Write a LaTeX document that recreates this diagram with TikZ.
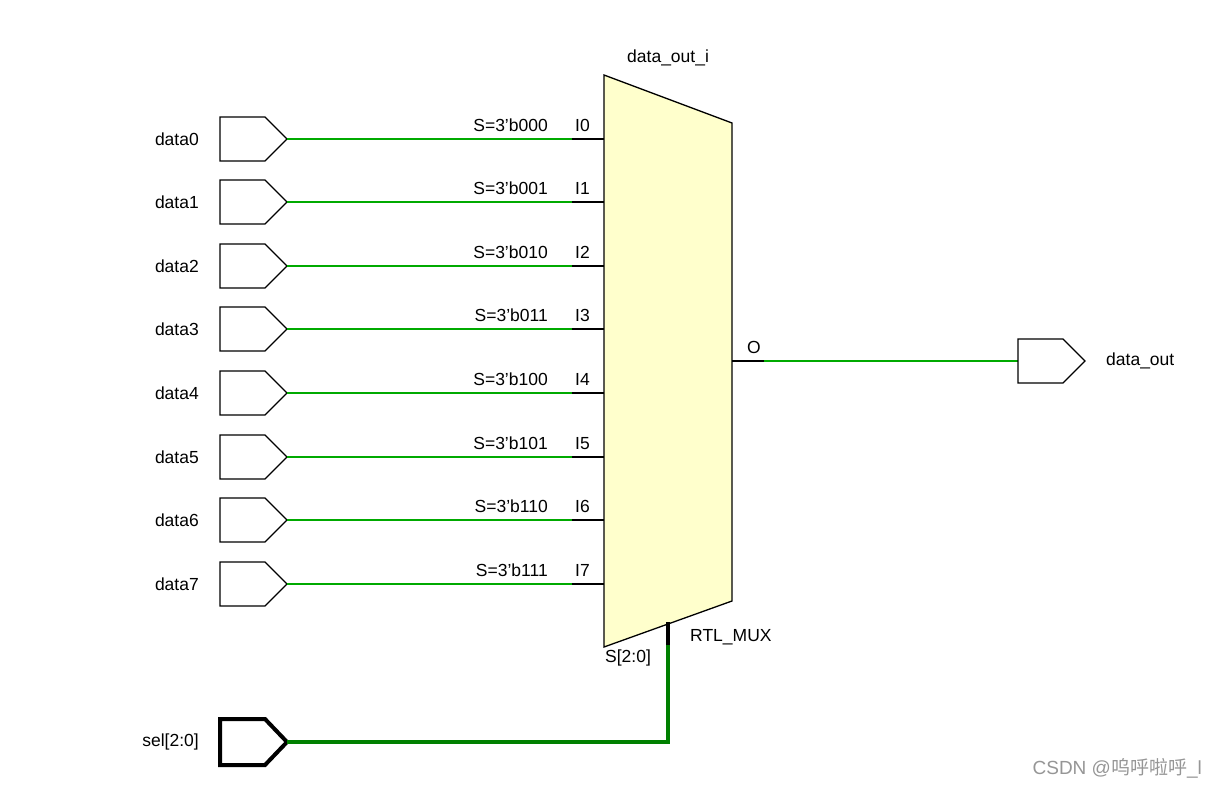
\documentclass[tikz,border=0pt]{standalone}
\usepackage{fontspec}
\setmainfont{Liberation Sans}
\newfontfamily\cjk{Noto Sans CJK SC}
\begin{document}
\begin{tikzpicture}[x=1pt,y=-1pt,
  lbl/.style={font=\fontsize{17.5}{20}\selectfont,inner sep=0pt},
  wire/.style={draw={rgb,255:red,0;green,170;blue,0},line width=1.3pt},
  stub/.style={draw=black,line width=1.5pt},
  port/.style={draw=black,line width=1.3pt,fill=white}]
\useasboundingbox (0,0) rectangle (1215,787);
\fill[white] (0,0) rectangle (1215,787);
\draw[line width=1.3pt,fill={rgb,255:red,255;green,255;blue,204}] (604,75) -- (732,123) -- (732,601) -- (604,647) -- cycle;
\node[lbl,anchor=south west] (mname) at (627,66) {data\_out\_i};
\node[lbl,anchor=west] (mtype) at (690,637) {RTL\_MUX};
\node[lbl,anchor=west] (sl) at (605,658) {S[2:0]};
\foreach \i/\y/\s in {0/139/000,1/202/001,2/266/010,3/329/011,4/393/100,5/457/101,6/520/110,7/584/111}{
  \draw[port] (220,\y-22) -- (265,\y-22) -- (287,\y) -- (265,\y+22) -- (220,\y+22) -- cycle;
  \coordinate (p\i) at (287,\y);
  \coordinate (s\i) at (572,\y);
  \coordinate (m\i) at (604,\y);
  \node[lbl,anchor=east] (n\i) at (199,\y) {data\i};
  \draw[wire] (p\i) -- (s\i);
  \draw[stub] (s\i) -- (m\i);
  \node[lbl,anchor=south east] (c\i) at (548,\y-7) {S=3\char"0027 b\s};
  \node[lbl,anchor=south west] (i\i) at (575,\y-7) {I\i};
}
\coordinate (mo) at (732,361);
\coordinate (so) at (764,361);
\coordinate (po) at (1018,361);
\draw[stub] (mo) -- (so);
\draw[wire] (so) -- (po);
\node[lbl,anchor=south west] (ol) at (747,354) {O};
\draw[port] (1018,339) -- (1063,339) -- (1085,361) -- (1063,383) -- (1018,383) -- cycle;
\node[lbl,anchor=west] (outl) at (1106,361) {data\_out};
\draw[draw=black,line width=4pt,fill=white] (220,719) -- (265,719) -- (287,742) -- (265,765) -- (220,765) -- cycle;
\node[lbl,anchor=east] (sell) at (199,742) {sel[2:0]};
\coordinate (ps) at (287,742);
\coordinate (cs) at (668,742);
\coordinate (ss) at (668,645);
\coordinate (ms) at (668,622);
\draw[draw={rgb,255:red,0;green,128;blue,0},line width=4.5pt] (ps) -- (cs) -- (ss);
\draw[draw=black,line width=4.5pt] (ss) -- (ms);
\node[anchor=east,inner sep=0pt,font=\fontsize{19}{22}\selectfont,text={rgb,255:red,150;green,150;blue,150}] (wm) at (1202,768) {CSDN @{\cjk 呜呼啦呼}\_l};
\end{tikzpicture}
\end{document}
